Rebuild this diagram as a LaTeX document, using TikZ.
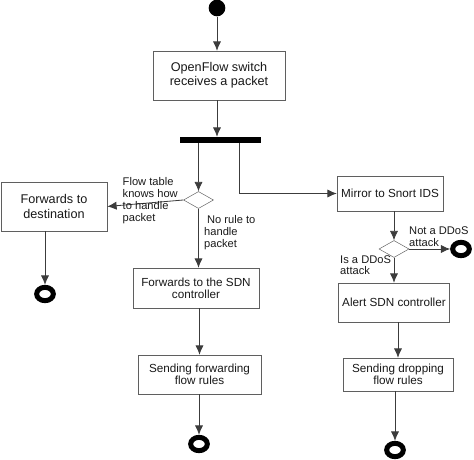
\documentclass[tikz,border=0pt]{standalone}
\usepackage{fontspec}
\setmainfont{Liberation Sans}
\usepackage{tikz}
\usetikzlibrary{shapes.geometric,arrows.meta,positioning}
\definecolor{actline}{RGB}{60,60,60}
\definecolor{actedge}{RGB}{95,95,95}
\tikzset{
  actbox/.style={rectangle, draw=actedge, fill=white, align=center, inner sep=2pt,
                 font=\fontsize{10}{10.5}\selectfont, text=black!90},
  bigbox/.style={actbox, font=\fontsize{10.8}{12}\selectfont},
  choice/.style={diamond, draw=actedge, fill=white, inner sep=0pt, aspect=1.75,
                 minimum width=0.9cm, minimum height=0.51cm},
  flow/.style={-{Latex[length=8pt,width=7pt]}, actline, line width=0.7pt},
  endring/.style={ellipse, draw=black, line width=0.15cm, minimum width=0.5cm,
                  minimum height=0.4cm, inner sep=0pt},
  guard/.style={font=\fontsize{9.5}{10.2}\selectfont, align=left, inner sep=0pt, text=black!90},
}
\begin{document}
\begin{tikzpicture}[x=0.03cm, y=-0.03cm]
  \useasboundingbox (0,0) rectangle (474,460);
  % start, switch and fork bar
  \node[circle, fill=black, minimum size=0.5cm, inner sep=0pt] (start) at (217,8) {};
  \node[bigbox, minimum width=3.96cm, minimum height=1.47cm] (sw) at (219,75.5) {OpenFlow switch\\receives a packet};
  \node[rectangle, fill=black, minimum width=2.43cm, minimum height=0.18cm, inner sep=0pt] (bar) at (220.5,140) {};
  \coordinate (fork) at (239,143);
  \draw[flow] (start) -- (start |- sw.north);
  \draw[flow] (start |- sw.south) -- (start |- bar.north);

  % left branch: flow table lookup
  \node[choice] (d1) at (198.5,200) {};
  \node[bigbox, minimum width=3.18cm, minimum height=1.47cm] (dest) at (54,206.5) {Forwards to\\destination};
  \node[actbox, minimum width=3.78cm, minimum height=1.2cm] (sdn) at (196,288) {Forwards to the SDN\\controller};
  \node[actbox, minimum width=3.69cm, minimum height=1.17cm] (fwd) at (199.5,374.5) {Sending forwarding\\flow rules};
  \node[endring] (e1) at (45,294) {};
  \node[endring] (e4) at (199,444) {};
  \draw[flow] (d1.north |- bar.south) -- (d1.north);
  \draw[flow] (d1.west) -- (dest.east);
  \draw[flow] (d1.south) -- (d1.south |- sdn.north);
  \draw[flow] (e1 |- dest.south) -- (e1);
  \draw[flow] (fwd.north |- sdn.south) -- (fwd.north);
  \draw[flow] (e4 |- fwd.south) -- (e4);
  \node[guard, anchor=north west] (known) at (122.5,177) {Flow table\\knows how\\to handle\\packet};
  \node[guard, anchor=north west] (norule) at (204,215) {\hspace{2.5pt}No rule to\\handle\\packet};

  % right branch: IDS mirror
  \node[actbox, minimum width=3.18cm, minimum height=1.05cm] (mirror) at (390,193.5) {Mirror to Snort IDS};
  \node[choice] (d2) at (394,249) {};
  \node[actbox, minimum width=3.33cm, minimum height=1.17cm] (alert) at (394,302.5) {Alert SDN controller};
  \node[actbox, minimum width=3.3cm, minimum height=0.99cm] (drop) at (398,374.5) {Sending dropping\\flow rules};
  \node[endring] (e2) at (461,249) {};
  \node[endring] (e3) at (395,450) {};
  \draw[flow] (fork) |- (mirror.west);
  \draw[flow] (d2.north |- mirror.south) -- (d2.north);
  \draw[flow] (d2.east) -- (e2);
  \draw[flow] (d2.south) -- (d2.south |- alert.north);
  \draw[flow] (drop.north |- alert.south) -- (drop.north);
  \draw[flow] (e3 |- drop.south) -- (e3);
  \node[guard, anchor=south west] (notddos) at (409,247) {Not a DDoS\\attack};
  \node[guard, anchor=north west] (isddos) at (340,255) {Is a DDoS\\attack};
\end{tikzpicture}
\end{document}
